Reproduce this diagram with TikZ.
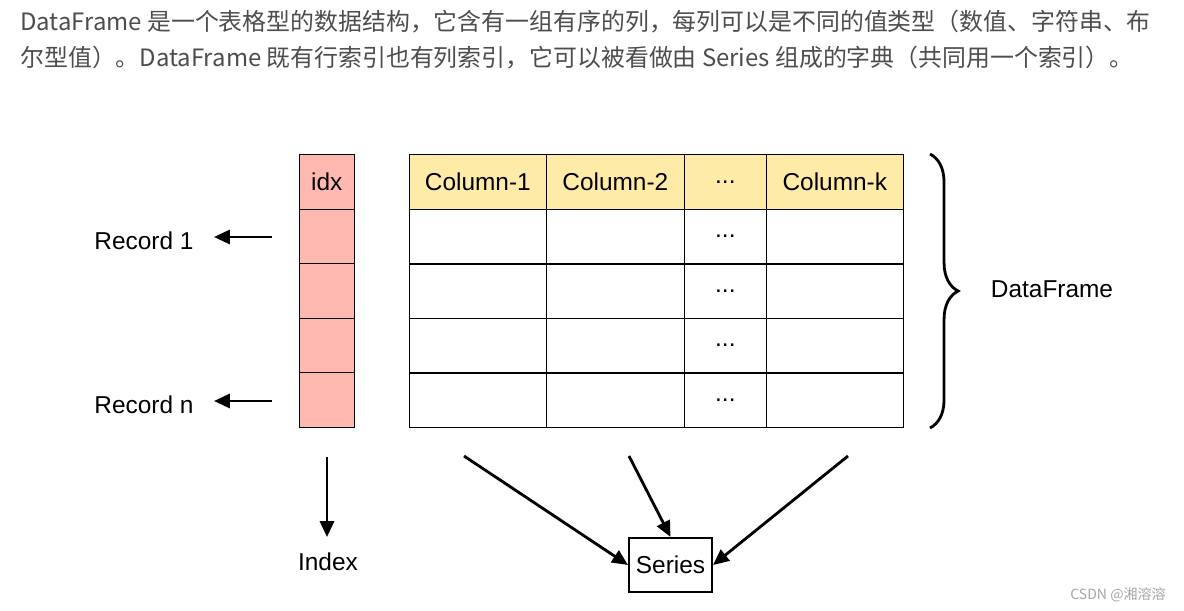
\documentclass[tikz,border=0pt]{standalone}
\usepackage{fontspec}
\setmainfont{Liberation Sans}
\newfontfamily\cjk{Noto Sans CJK SC}
\usetikzlibrary{arrows.meta,decorations.pathreplacing}
\definecolor{idxpink}{HTML}{FFB8B0}
\definecolor{headyellow}{HTML}{FFEBA8}
\definecolor{txtgray}{HTML}{4D4D4D}
\newcommand{\celldots}{...}
\tikzset{
  cell/.style={draw, inner sep=0pt, anchor=north west, font=\fontsize{13.9}{16}\selectfont},
  arr/.style={line width=1.6pt, -{Triangle[length=9pt,width=8pt]}},
  lbl/.style={font=\fontsize{13.9}{16}\selectfont},
  intro/.style={anchor=west, text=txtgray, font=\cjk\fontsize{13.6}{16}\selectfont, inner sep=0pt}
}
\begin{document}
\begin{tikzpicture}[x=0.02cm, y=-0.02cm]
\useasboundingbox (0,0) rectangle (1184,611);
% intro text
\node[intro] (t1) at (20,22)
  {DataFrame 是一个表格型的数据结构，它含有一组有序的列，每列可以是不同的值类型（数值、字符串、布};
\node[intro] (t2) at (20,58)
  {尔型值）。DataFrame 既有行索引也有列索引，它可以被看做由 Series 组成的字典（共同用一个索引）。};
% index column
\node[cell, fill=idxpink, minimum width=55*0.02cm, minimum height=55*0.02cm] (i0) at (299,154) {idx};
\foreach \r in {1,...,4}{
  \node[cell, fill=idxpink, minimum width=55*0.02cm, minimum height=55*0.02cm] (i\r) at (299,154+\r*55-\r*0.4) {};
}
% table
\foreach \c/\x/\w/\t in {1/409/137/Column-1, 2/546/138/Column-2, 3/684/82/\celldots, 4/766/137/Column-k}{
  \node[cell, fill=headyellow, minimum width=\w*0.02cm, minimum height=55*0.02cm] (c\c-0) at (\x,154) {\t};
  \foreach \r in {1,...,4}{
    \ifnum\c=3
      \node[cell, minimum width=\w*0.02cm, minimum height=55*0.02cm] (c\c-\r) at (\x,154+\r*55-\r*0.4) {\celldots};
    \else
      \node[cell, minimum width=\w*0.02cm, minimum height=55*0.02cm] (c\c-\r) at (\x,154+\r*55-\r*0.4) {};
    \fi
  }
}
% records
\node[lbl] (rec1) at (144,241) {Record 1};
\node[lbl] (recn) at (144,405) {Record n};
\coordinate (r1s) at (272,237);
\coordinate (rns) at (272,401);
\draw[arr] (r1s) -- (214,237);
\draw[arr] (rns) -- (214,401);
% brace
\draw[line width=1.6pt, decorate, decoration={brace, amplitude=16pt}] (930,154) -- (930,428);
\node[lbl] (df) at (1052,289) {DataFrame};
% index / series
\node[lbl] (index) at (328,562) {Index};
\node[lbl, draw, line width=1.2pt, minimum width=83*0.02cm, minimum height=54*0.02cm] (series) at (670.5,565) {Series};
\coordinate (ia) at (327,457);
\coordinate (s1) at (464,456);
\coordinate (s2) at (629,456);
\coordinate (s3) at (848,456);
\draw[arr] (ia) -- (327,537);
\draw[arr] (s1) -- (series.west);
\draw[arr] (s2) -- (series.north);
\draw[arr] (s3) -- (series.east);
% watermark
\node[text=gray!70, font=\cjk\fontsize{8}{9}\selectfont] (wm) at (1118,595) {CSDN @湘溶溶};
\end{tikzpicture}
\end{document}
